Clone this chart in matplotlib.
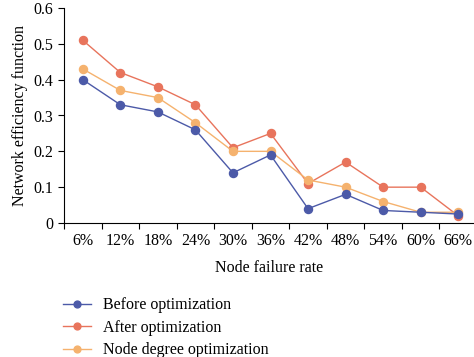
import matplotlib
matplotlib.use("Agg")
import matplotlib.pyplot as plt

categories = ["6%", "12%", "18%", "24%", "30%", "36%", "42%", "48%", "54%", "60%", "66%"]
before = [0.40, 0.33, 0.31, 0.26, 0.14, 0.19, 0.04, 0.08, 0.035, 0.03, 0.025]
after = [0.51, 0.42, 0.38, 0.33, 0.21, 0.25, 0.11, 0.17, 0.10, 0.10, 0.02]
node_degree = [0.43, 0.37, 0.35, 0.28, 0.20, 0.20, 0.12, 0.10, 0.06, 0.03, 0.03]
y_ticks = [0, 0.1, 0.2, 0.3, 0.4, 0.5, 0.6]
y_labels = ["0", "0.1", "0.2", "0.3", "0.4", "0.5", "0.6"]

plt.rcParams['font.family'] = ['Liberation Serif', 'DejaVu Serif']
fs = 11.5

c_before = "#4c5aa8"
c_after = "#e8745c"
c_node = "#f5b26e"

fig = plt.figure(figsize=(4.74, 3.57), dpi=100)
ax = fig.add_axes([64/474, 1-223/357, 1-64/474, (223-8)/357])

x = list(range(len(categories)))
ms = 5.8
ax.plot(x, before, color=c_before, marker="o", markersize=ms, lw=1.0, label="Before optimization", zorder=3)
ax.plot(x, after, color=c_after, marker="o", markersize=ms, lw=1.0, label="After optimization", zorder=2)
ax.plot(x, node_degree, color=c_node, marker="o", markersize=ms, lw=1.0, label="Node degree optimization", zorder=2.5)

ax.set_xlim(-0.5, 10.42)
ax.set_ylim(0, 0.6)
ax.set_yticks(y_ticks)
ax.set_yticklabels(y_labels, fontsize=fs)
ax.set_xticks([i - 0.5 for i in range(len(categories))])
ax.set_xticklabels([])
ax.set_xticks(x, minor=True)
ax.set_xticklabels(categories, minor=True, fontsize=fs)
ax.tick_params(axis="x", which="minor", length=0, pad=7)
ax.tick_params(axis="x", which="major", length=4, direction="out", width=0.8)
ax.tick_params(axis="y", length=4, direction="out", width=0.8)
for s in ["top", "right"]:
    ax.spines[s].set_visible(False)
for s in ["left", "bottom"]:
    ax.spines[s].set_linewidth(0.8)

ax.set_ylabel("Network efficiency function", fontsize=fs)
ax.set_xlabel("Node failure rate", fontsize=fs, labelpad=8)

handles, labels = ax.get_legend_handles_labels()
fig.legend(handles, labels, loc="upper left", bbox_to_anchor=(49/474, 1-283/357),
           frameon=False, fontsize=fs, handlelength=1.75, labelspacing=0.4,
           handletextpad=0.75, markerscale=0.85)

fig.savefig("out.png", dpi=100)
